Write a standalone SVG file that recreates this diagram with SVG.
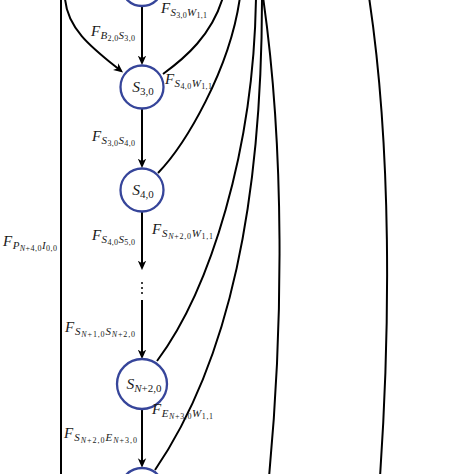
<svg xmlns="http://www.w3.org/2000/svg" width="474" height="474" viewBox="0 0 474 474">
<defs>
<style>
.node{fill:#fff;stroke:#36459a;stroke-width:2.3}
.c{fill:none;stroke:#000;stroke-width:2;stroke-linecap:butt}
.a{marker-end:url(#ah)}
text{font-family:"Liberation Serif","DejaVu Serif",serif;fill:#1a1a1a}
.lb{font-size:15px}
.i{font-style:italic}
.s1{font-size:11px}
.s2{font-size:8px}
.nl{font-size:15.5px;text-anchor:middle}
.ns{font-size:11px}
</style>
<marker id="ah" viewBox="0 0 10 10" refX="7" refY="5" markerWidth="9.5" markerHeight="9.5" orient="auto" markerUnits="userSpaceOnUse">
<path d="M0,0.6 L10,5 L0,9.4 L2.8,5 z" fill="#000"/>
</marker>
</defs>
<rect width="474" height="474" fill="#fff"/>
<g id="connectors">
<path class="c" d="M61,-2 L61,476"/>
<path class="c a" d="M142,6 L142,62.3"/>
<path class="c a" d="M142,108.5 L142,165.3"/>
<path class="c a" d="M142,211.5 L142,267.3"/>
<path class="c a" d="M142,300 L142,356.3"/>
<path class="c a" d="M142,409.5 L142,465"/>
<path class="c a" d="M65,-2 C67,30 95,50 120.8,70.8"/>
<path class="c" d="M163,74 C185,58 212,35 223,-3"/>
<path class="c" d="M158,173 C185,145 230,70 240,-3"/>
<path class="c" d="M157,361 C210,290 254,150 256,-3"/>
<path class="c" d="M155,470 C230,360 262,200 262,-3"/>
<path class="c" d="M263,-3 C285,150 283,330 269,477"/>
<path class="c" d="M369,-3 C392,150 390,330 380,477"/>
<circle cx="142" cy="283" r="1" fill="#000"/>
<circle cx="142" cy="288" r="1" fill="#000"/>
<circle cx="142" cy="293" r="1" fill="#000"/>
</g>
<g id="node-top"><circle class="node" cx="142" cy="-15" r="21"/></g>
<g id="node-S30"><circle class="node" cx="142" cy="87" r="21.5"/>
<text class="nl" x="143" y="92"><tspan class="i">S</tspan><tspan class="ns" dy="2.5">3,0</tspan></text></g>
<g id="node-S40"><circle class="node" cx="142" cy="190" r="21.5"/>
<text class="nl" x="143" y="195"><tspan class="i">S</tspan><tspan class="ns" dy="2.5">4,0</tspan></text></g>
<g id="node-SN20"><circle class="node" cx="142" cy="384" r="25"/>
<text class="nl" x="144" y="389"><tspan class="i">S</tspan><tspan class="ns i" dy="2.5">N</tspan><tspan class="ns">+2,0</tspan></text></g>
<g id="node-bottom"><circle class="node" cx="142" cy="490" r="22"/></g>
<g id="labels">
<text class="lb" x="161" y="12.5" textLength="46"><tspan class="i">F</tspan><tspan class="s1 i" dy="3">S</tspan><tspan class="s2" dy="2">3,0</tspan><tspan class="s1 i" dy="-2">W</tspan><tspan class="s2" dy="2">1,1</tspan></text>
<text class="lb" x="91" y="36" textLength="44"><tspan class="i">F</tspan><tspan class="s1 i" dy="3">B</tspan><tspan class="s2" dy="2">2,0</tspan><tspan class="s1 i" dy="-2">S</tspan><tspan class="s2" dy="2">3,0</tspan></text>
<text class="lb" x="165" y="84" textLength="47"><tspan class="i">F</tspan><tspan class="s1 i" dy="3">S</tspan><tspan class="s2" dy="2">4,0</tspan><tspan class="s1 i" dy="-2">W</tspan><tspan class="s2" dy="2">1,1</tspan></text>
<text class="lb" x="92" y="141" textLength="43"><tspan class="i">F</tspan><tspan class="s1 i" dy="3">S</tspan><tspan class="s2" dy="2">3,0</tspan><tspan class="s1 i" dy="-2">S</tspan><tspan class="s2" dy="2">4,0</tspan></text>
<text class="lb" x="92" y="240" textLength="43"><tspan class="i">F</tspan><tspan class="s1 i" dy="3">S</tspan><tspan class="s2" dy="2">4,0</tspan><tspan class="s1 i" dy="-2">S</tspan><tspan class="s2" dy="2">5,0</tspan></text>
<text class="lb" x="152" y="234" textLength="61"><tspan class="i">F</tspan><tspan class="s1 i" dy="3">S</tspan><tspan class="s2 i" dy="2">N</tspan><tspan class="s2">+2,0</tspan><tspan class="s1 i" dy="-2">W</tspan><tspan class="s2" dy="2">1,1</tspan></text>
<text class="lb" x="3" y="246" textLength="54"><tspan class="i">F</tspan><tspan class="s1 i" dy="3">P</tspan><tspan class="s2 i" dy="2">N</tspan><tspan class="s2">+4,0</tspan><tspan class="s1 i" dy="-2">I</tspan><tspan class="s2" dy="2">0,0</tspan></text>
<text class="lb" x="65" y="332" textLength="70"><tspan class="i">F</tspan><tspan class="s1 i" dy="3">S</tspan><tspan class="s2 i" dy="2">N</tspan><tspan class="s2">+1,0</tspan><tspan class="s1 i" dy="-2">S</tspan><tspan class="s2 i" dy="2">N</tspan><tspan class="s2">+2,0</tspan></text>
<text class="lb" x="64" y="438" textLength="73"><tspan class="i">F</tspan><tspan class="s1 i" dy="3">S</tspan><tspan class="s2 i" dy="2">N</tspan><tspan class="s2">+2,0</tspan><tspan class="s1 i" dy="-2">E</tspan><tspan class="s2 i" dy="2">N</tspan><tspan class="s2">+3,0</tspan></text>
<text class="lb" x="152" y="414" textLength="61"><tspan class="i">F</tspan><tspan class="s1 i" dy="3">E</tspan><tspan class="s2 i" dy="2">N</tspan><tspan class="s2">+3,0</tspan><tspan class="s1 i" dy="-2">W</tspan><tspan class="s2" dy="2">1,1</tspan></text>
</g>
</svg>
